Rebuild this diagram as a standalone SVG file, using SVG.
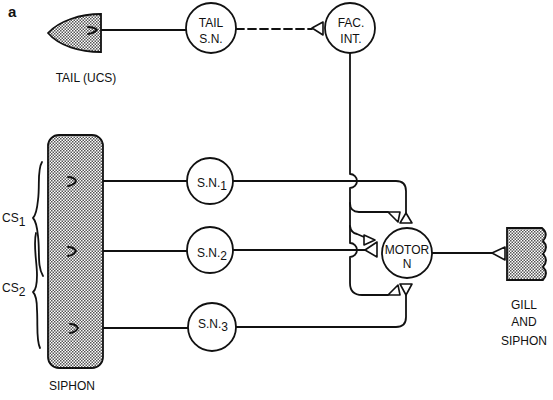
<svg xmlns="http://www.w3.org/2000/svg" width="553" height="400" viewBox="0 0 553 400">
<style>
.ln{fill:none;stroke:#111;stroke-width:1.8;stroke-linecap:round;stroke-linejoin:round}
.cir{fill:#fff;stroke:#111;stroke-width:1.8}
.tri{fill:#fff;stroke:#111;stroke-width:1.6;stroke-linejoin:round}
.stip{fill:url(#dots);stroke:#111;stroke-width:1.8}
.t{font-family:"Liberation Sans",Arial,sans-serif;font-size:12px;fill:#111;text-anchor:middle}
.tl{font-family:"Liberation Sans",Arial,sans-serif;font-size:12px;fill:#111}
</style>
<defs>
<pattern id="dots" width="3" height="3" patternUnits="userSpaceOnUse">
<rect width="3" height="3" fill="#fff"/>
<rect x="0" y="0" width="1.5" height="1.5" fill="#555"/>
<rect x="1.5" y="1.5" width="1.5" height="1.5" fill="#555"/>
</pattern>
</defs>
<rect width="553" height="400" fill="#fff"/>
<text x="8" y="17" font-family="Liberation Sans,Arial,sans-serif" font-size="15" font-weight="bold" fill="#111">a</text>

<g id="connectors">
<path class="ln" d="M97,30 H186"/>
<path class="ln" d="M236,29 H312" stroke-dasharray="8,4"/>
<path class="ln" d="M76,181 H187"/>
<path class="ln" d="M76,251 H187"/>
<path class="ln" d="M78,328 H189"/>
<path class="ln" d="M233,181 H396 Q406,181 406,191 V213"/>
<path class="ln" d="M233,250 H365"/>
<path class="ln" d="M236,327 H396 Q406,327 406,317 V295"/>
<path class="ln" d="M350,53 V174 A7,7 0 0 1 350,188 V243 A7,7 0 0 1 350,257 V283 Q350,295 362,295 H388"/>
<path class="ln" d="M350,203 Q350,212 359,212 H388"/>
<path class="ln" d="M350,226 Q351,233 357,234 L364,237"/>
<path class="ln" d="M432,253 H492"/>
<polygon class="tri" points="312,28 323,22 323,35"/>
<polygon class="tri" points="406,213 400,223 412,223"/>
<polygon class="tri" points="388,212 400,212 398,222"/>
<polygon class="tri" points="364,235 364,245 375,240"/>
<polygon class="tri" points="365,250 377,242 377,257"/>
<polygon class="tri" points="406,295 400,284 412,284"/>
<polygon class="tri" points="388,295 400,295 398,285"/>
<polygon class="tri" points="492,253 505,247 505,260"/>
</g>

<g id="tail">
<path class="stip" d="M101,14 V52 C80,52 59,46 48,33 C59,21 80,14 101,14 Z"/>
<path class="ln" d="M88,27 Q94,27 97,30 M88,34 Q94,33 97,30"/>
<text class="t" x="86" y="82">TAIL (UCS)</text>
</g>

<g id="siphon">
<rect class="stip" x="48" y="135" width="55" height="233" rx="11"/>
<path class="ln" d="M68,177 Q74,177 76,181 M68,186 Q74,185 76,181"/>
<path class="ln" d="M68,247 Q74,247 76,251 M68,256 Q74,255 76,251"/>
<path class="ln" d="M70,324 Q76,324 78,328 M70,333 Q76,332 78,328"/>
<text class="t" x="72" y="390">SIPHON</text>
</g>

<g id="braces">
<path class="ln" stroke-width="1.2" d="M42,162 C37,170 40,185 38,200 C37,210 36,215 33,218 C36,221 37,226 38,236 C40,252 37,266 43,276"/>
<path class="ln" stroke-width="1.2" d="M36,233 C33,245 37,262 37,275 C37,285 36,290 33,292 C36,295 37,300 37,310 C38,325 36,340 40,348"/>
<text class="tl" x="2" y="222" font-size="13">CS<tspan dy="4" font-size="12">1</tspan></text>
<text class="tl" x="2" y="292" font-size="13">CS<tspan dy="4" font-size="12">2</tspan></text>
</g>

<g id="tail-sn">
<circle class="cir" cx="211" cy="28" r="25"/>
<text class="t" x="211" y="27">TAIL</text>
<text class="t" x="211" y="43">S.N.</text>
</g>

<g id="fac-int">
<circle class="cir" cx="350" cy="28" r="25"/>
<text class="t" x="351" y="27">FAC.</text>
<text class="t" x="351" y="43">INT.</text>
</g>

<g id="sn1">
<circle class="cir" cx="210" cy="181" r="23"/>
<text class="tl" x="197" y="187">S.N.<tspan dy="3">1</tspan></text>
</g>

<g id="sn2">
<circle class="cir" cx="210" cy="250" r="23"/>
<text class="tl" x="197" y="257">S.N.<tspan dy="3">2</tspan></text>
</g>

<g id="sn3">
<circle class="cir" cx="212" cy="327" r="24"/>
<text class="tl" x="198" y="328">S.N.<tspan dy="3">3</tspan></text>
</g>

<g id="motor">
<circle class="cir" cx="407" cy="253" r="25"/>
<text class="t" x="407" y="254">MOTOR</text>
<text class="t" x="407" y="268">N</text>
</g>

<g id="gill">
<path class="stip" d="M507,228 H542 Q549,234 543,241 Q549,247 543,254 Q549,260 543,267 Q549,273 543,280 H507 Z"/>
<text class="t" x="524" y="309">GILL</text>
<text class="t" x="524" y="326">AND</text>
<text class="t" x="524" y="345">SIPHON</text>
</g>
</svg>
